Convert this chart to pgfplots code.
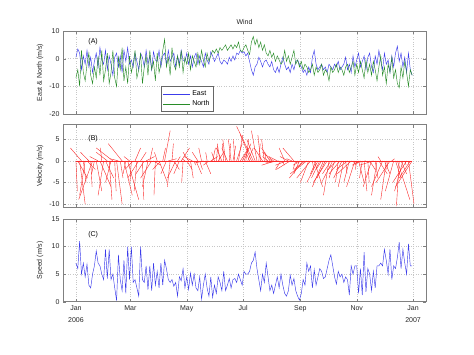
\documentclass[border=0pt]{standalone}
\usepackage{pgfplots}
\pgfplotsset{compat=1.18}
\usepackage{pgfplotstable}
\usepackage{fontspec}
\setmainfont{Liberation Sans}
\definecolor{mblue}{RGB}{60,60,235}
\definecolor{mgreen}{RGB}{40,140,40}
\definecolor{mred}{RGB}{250,40,40}
\pgfplotstableread{
t E N S
0 0.5 -7 7.0
2 3.5 -4 6.0
4 2 -10 11.0
6 -4 3 5.0
8 1 -5 7.0
10 -2 -8 4.5
12 3 -2 6.8
14 -3 2 3.0
16 0.5 -6 2.5
18 -5 -9 5.0
20 -1 -3 6.5
22 2 -7 9.2
24 -3 1 7.0
26 4 -6 6.5
28 -0.5 3 5.0
30 -2 -8 4.0
32 3 -4 9.5
34 -4 2 4.2
36 1 -9 9.5
38 -2 -5 4.0
40 -6 3 5.0
42 0.5 -7 2.5
44 2 -10 0.2
46 -3 0.5 8.5
48 1 -4 4.0
50 -5 4 2.0
52 3 -8 7.5
54 -1 -3 1.5
56 4 -9 10.0
58 -2 1 4.0
60 -0.5 -5 10.0
62 -3 -2 3.5
64 2 3 4.0
66 -1 -7 2.5
68 -4 -4 1.0
70 2 2 10.0
72 0.5 -9 4.0
74 -3 -3 3.5
76 3 1 6.5
78 -2 -6 2.2
80 1 3 6.5
82 -4 -4 2.0
84 2.5 -1 7.0
86 -0.5 -8 3.0
88 -1 2 5.5
90 3 -5 2.5
92 -3 -2 7.0
94 1 3 3.0
96 2 7 7.5
98 -2 -3 6.0
100 3 0.5 4.0
102 -1 -6 3.5
104 0.5 4 4.0
106 2 -2 2.8
108 -3 -4 3.5
110 1 1 1.0
112 -2 -3 4.5
114 3 3 3.8
116 -0.5 -5 6.0
118 -1 0.5 2.5
120 2 -2 4.5
122 -2 2 2.2
124 1 -4 5.2
126 -3 1 3.0
128 0.5 -1 5.0
130 2 -3 2.5
132 -2 2 2.0
134 1 -2 4.5
136 -1 3 0.5
138 -3 -0.5 3.0
140 2 -3 5.0
142 -0.5 2 2.5
144 -2 -1 1.0
146 2.5 1 4.5
148 1 3 0.8
150 -1 2 3.0
152 0.5 3.5 1.5
154 2 2 4.5
156 -1 4 3.5
158 -2 3 2.0
160 -0.5 4 5.5
162 -1 5 2.0
164 -2 3 3.0
166 0.5 4 4.2
168 -1 5 2.5
170 1 3.5 4.0
172 -0.5 5 4.2
174 2 4 3.5
176 1.5 6 5.0
178 3 3 4.0
180 2 2.5 3.0
182 2.5 4 5.5
184 1 5 5.0
186 2 3 5.0
188 -1 1.5 5.5
190 -4 6 7.0
192 -6 8 7.5
194 -3 5 9.0
196 -2 7 6.0
198 0.5 4 4.0
200 -1 6 2.0
202 -3 3 5.0
204 -1 5 3.5
206 -0.5 2 7.0
208 -2 1 4.5
210 -3 3 2.0
212 -1 0.5 3.0
214 -4 2 1.5
216 -5 -1 3.0
218 -3 1 4.5
220 -5 -0.5 2.5
222 -2 -2 5.0
224 0.5 -1 3.0
226 -2 3 1.5
228 -4 -1 1.0
230 -3 1 2.0
232 -5 -2 4.8
234 -2 0.5 3.0
236 -4 3 4.2
238 -1 -2 2.0
240 -0.5 -0.5 1.0
242 -2 -3 0.3
244 -3 -1 1.5
246 -5 -4 4.0
248 -4 -2 3.0
250 -6 -3 7.0
252 -3 -5 5.5
254 -5 -4 6.5
256 0.5 -2 2.5
258 3 -6 5.8
260 -2 -3 3.0
262 -4 -5 4.5
264 -3 -4 6.0
266 -2 -2 5.5
268 -4 -6 4.2
270 -3 -4 4.5
272 -5 -5 6.0
274 -2 -8 7.5
276 -3 -3 8.5
278 -4 -5 6.5
280 -2 -4 4.5
282 -3 -2 3.2
284 -1 -5 5.5
286 -4 -3 4.5
288 -3 -4 5.0
290 -2 -6 3.5
292 0.5 -3 4.5
294 -4 -2 4.0
296 -2 -5 1.2
298 -5 -3 6.5
300 1 -1 5.0
302 -3 -6 6.5
304 -0.5 -2 6.5
306 2 -5 1.5
308 -3 -1 6.0
310 -1 -4 1.2
312 1 -7 9.0
314 -4 -0.5 1.8
316 0.5 -5 6.0
318 2 -2 5.0
320 -3 -6 2.0
322 -5 -1 5.5
324 1 -4 2.5
326 -2 -8 6.5
328 3 -3 6.5
330 -1 1 7.0
332 -4 -6 6.5
334 2 -3 9.5
336 -2 -9 7.5
338 -0.5 -2 5.0
340 -5 -5 9.5
342 1 0.5 4.0
344 -3 -7 6.5
346 2 -4 6.0
348 4.5 -9 8.0
350 -1 -10.5 10.8
352 2 -3 6.0
354 -3 -7 9.5
356 0.5 -1 7.0
358 -5 -5 5.0
360 2 -10 10.5
362 -4 -4 6.5
364 -6 -6 6.5
}\wind
\begin{document}
\begin{tikzpicture}
\useasboundingbox (0pt,0pt) rectangle (474pt,355pt);
\pgfplotsset{
  windax/.style={
    width=363pt, scale only axis,
    xmin=-14, xmax=379,
    xtick={0,59,120,181,243,304,365},
    grid=major, grid style={dotted, black!22},
    axis line style={black!50}, tick style={black!50},
    major tick length=3pt, tick pos=both,
    tick label style={font=\fontsize{7}{8.4}\selectfont, text=black!85},
    label style={font=\fontsize{7}{8.4}\selectfont, text=black!85},
    /pgf/number format/assume math mode=true,
    ylabel style={at={(axis description cs:-0.063,0.5)}, anchor=center},
    clip=true,
  }
}
% Panel A
\begin{axis}[windax, at={(63pt,241pt)}, anchor=south west, height=83pt,
  ymin=-20, ymax=10, ytick={-20,-10,0,10}, xticklabels={},
  ylabel={East \& North (m/s)},
  title={Wind}, title style={font=\fontsize{7}{8.4}\selectfont, text=black!85, yshift=-3pt},
  legend style={at={(0.269,0.028)}, anchor=south west, font=\fontsize{7}{8.4}\selectfont, draw=black!60, inner sep=2pt, row sep=0pt},
  legend cell align=left,
  legend image code/.code={\draw[#1] (0pt,0pt) -- (27pt,0pt);},
]
\addplot[draw=mblue, line width=0.45pt] table[x=t, y=E] {\wind};
\addplot[draw=mgreen, line width=0.45pt] table[x=t, y=N] {\wind};
\legend{East, North}
\node[font=\fontsize{7}{8.4}\selectfont] at (rel axis cs:0.083,0.87) {(A)};
\end{axis}
% Panel B
\begin{axis}[windax, at={(63pt,148pt)}, anchor=south west, height=82.3pt,
  ymin=-10.7, ymax=8.4, ytick={-10,-5,0,5}, xticklabels={},
  ylabel={Velocity (m/s)},
]
\addplot[draw=mred, line width=0.4pt, quiver={u=3*\thisrow{E}, v=\thisrow{N}}] table[x=t, y expr=0] {\wind};
\addplot[draw=mred, line width=0.6pt] coordinates {(0,0) (364,0)};
\node[font=\fontsize{7}{8.4}\selectfont] at (rel axis cs:0.083,0.826) {(B)};
\end{axis}
% Panel C
\begin{axis}[windax, at={(63pt,53.3pt)}, anchor=south west, height=82.7pt,
  ymin=0, ymax=15, ytick={0,5,10,15},
  xticklabels={{Jan\\[4pt]2006},Mar,May,Jul,Sep,Nov,{Jan\\[4pt]2007}},
  xticklabel style={align=center},
  ylabel={Speed (m/s)},
]
\addplot[draw=mblue, line width=0.45pt] table[x=t, y=S] {\wind};
\node[font=\fontsize{7}{8.4}\selectfont] at (rel axis cs:0.083,0.807) {(C)};
\end{axis}
\end{tikzpicture}
\end{document}
